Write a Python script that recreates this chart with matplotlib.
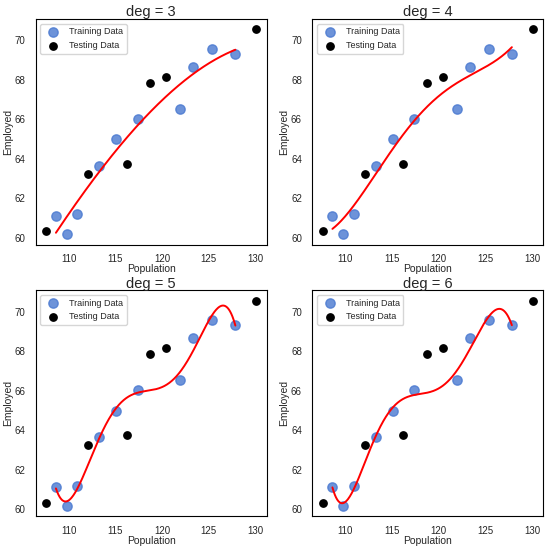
import matplotlib
matplotlib.use('Agg')

import numpy as np
import seaborn as sns
from matplotlib import pyplot as plt

sns.set_style('white')
plt.rcParams['font.family'] = ['Liberation Sans', 'DejaVu Sans']

# Longley data split into training / testing
train_pop = [108.632, 109.773, 110.929, 113.270, 115.094, 117.388,
             121.950, 123.366, 125.368, 127.852]
train_emp = [61.122, 60.171, 61.187, 63.639, 64.989, 66.019,
             66.513, 68.655, 69.564, 69.331]
test_pop = [107.608, 112.075, 116.219, 118.734, 120.445, 130.081]
test_emp = [60.323, 63.221, 63.761, 67.857, 68.169, 70.551]

degrees = [3, 4, 5, 6]

fig, axes = plt.subplots(2, 2, figsize=(5.52, 5.5), dpi=100)
fig.subplots_adjust(left=0.065, right=0.984, top=0.965, bottom=0.062,
                    wspace=0.198, hspace=0.203)

x_fit = np.linspace(min(train_pop), max(train_pop), 300)
for ax, deg in zip(axes.flat, degrees):
    coefs = np.polyfit(train_pop, train_emp, deg)
    ax.scatter(train_pop, train_emp, s=45, color='#4878d0', alpha=0.8,
               label='Training Data', zorder=2)
    ax.scatter(test_pop, test_emp, s=28, color='black',
               label='Testing Data', zorder=2)
    ax.plot(x_fit, np.polyval(coefs, x_fit), color='red', lw=1.4, zorder=3)
    ax.set_title(f'deg = {deg}', fontsize=10.5, pad=2)
    ax.set_xlabel('Population', fontsize=7.5, labelpad=0)
    ax.set_ylabel('Employed', fontsize=7.5, labelpad=1)
    ax.tick_params(axis='x', labelsize=7, pad=3.5)
    ax.tick_params(axis='y', labelsize=7, pad=4)
    ax.set_xticks([110, 115, 120, 125, 130])
    ax.set_yticks([60, 62, 64, 66, 68, 70])
    ax.legend(loc='upper left', fontsize=6.5, frameon=True)
    for sp in ax.spines.values():
        sp.set_color('black')

plt.savefig('out.png', dpi=100)
plt.close()
